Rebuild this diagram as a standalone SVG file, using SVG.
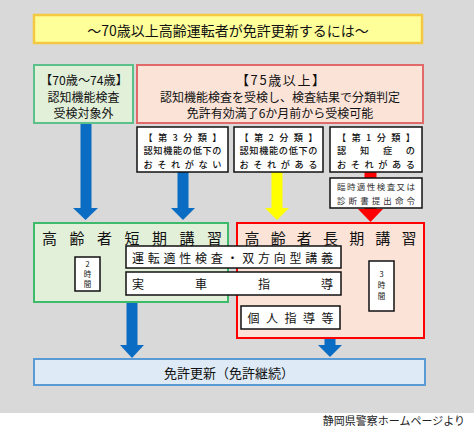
<svg xmlns="http://www.w3.org/2000/svg" width="474" height="429" viewBox="0 0 474 429">
<style>
text{font-family:"Noto Sans CJK JP","Noto Sans",sans-serif;fill:#111;text-anchor:middle;dominant-baseline:central}
.wb{fill:#fff;stroke:#111;stroke-width:1.5}
.t12{font-size:12px}
.t11{font-size:9.2px;font-weight:500}
.t9{font-size:8.5px;fill:#333}
.t15{font-size:15px}
.t8{font-size:7.5px}
</style>
<rect x="0" y="0" width="474" height="413" fill="#d9d9d9"/>
<rect x="0" y="413" width="474" height="16" fill="#fff"/>
<g id="title">
<rect x="34" y="15" width="388" height="28" fill="#ffff99" stroke="#f5c842" stroke-width="2.5"/>
<text x="228" y="29.5" style="font-size:14px">～70歳以上高齢運転者が免許更新するには～</text>
</g>
<g id="connectors">
<g fill="#0b6cc4">
<rect x="80.5" y="123" width="11" height="86"/><polygon points="73,208 98,208 85.5,220"/>
<rect x="177.5" y="172" width="11" height="37"/><polygon points="171,208 195,208 183,220"/>
<rect x="126.5" y="302" width="11" height="44"/><polygon points="120,345 144,345 132,358"/>
<rect x="324.5" y="338" width="11" height="8"/><polygon points="318,345 342,345 330,357"/>
</g>
<rect x="271.5" y="172" width="11" height="37" fill="#ffff00"/><polygon points="265,208 289,208 277,220" fill="#ffff00"/>
<rect x="364.5" y="172" width="12" height="6" fill="#ff0000"/>
<rect x="364.5" y="208" width="12" height="2" fill="#ff0000"/>
<polygon points="358,209 383,209 370.5,222" fill="#ff0000"/>
</g>
<g id="age70">
<rect x="34" y="65" width="99" height="58" fill="#e2efd9" stroke="#5cc08a" stroke-width="2"/>
<text x="84" y="79" class="t12" textLength="88" lengthAdjust="spacingAndGlyphs">【70歳～74歳】</text>
<text x="83.5" y="96" class="t12">認知機能検査</text>
<text x="83.5" y="112" class="t12">受検対象外</text>
</g>
<g id="age75">
<rect x="137" y="65" width="286" height="58" fill="#fbe3d8" stroke="#e06a6a" stroke-width="2"/>
<text x="280.5" y="79" style="font-size:13px" textLength="89" lengthAdjust="spacing">【75歳以上】</text>
<text x="280" y="96" class="t12">認知機能検査を受検し、検査結果で分類判定</text>
<text x="280" y="112" class="t12">免許有効満了6か月前から受検可能</text>
</g>
<g id="cat3">
<rect x="137" y="127" width="91" height="45" class="wb"/>
<text x="182.5" y="136.5" class="t11" textLength="78" lengthAdjust="spacing">【第3分類】</text>
<text x="182.5" y="150" class="t11" textLength="78" lengthAdjust="spacing">認知機能の低下の</text>
<text x="182.5" y="163.5" class="t11" textLength="78" lengthAdjust="spacing">おそれがない</text>
</g>
<g id="cat2">
<rect x="234" y="127" width="89" height="45" class="wb"/>
<text x="278.5" y="136.5" class="t11" textLength="78" lengthAdjust="spacing">【第2分類】</text>
<text x="278.5" y="150" class="t11" textLength="78" lengthAdjust="spacing">認知機能の低下の</text>
<text x="278.5" y="163.5" class="t11" textLength="78" lengthAdjust="spacing">おそれがある</text>
</g>
<g id="cat1">
<rect x="330" y="127" width="92" height="45" class="wb"/>
<text x="376" y="136.5" class="t11" textLength="78" lengthAdjust="spacing">【第1分類】</text>
<text x="376" y="150" class="t11" textLength="78" lengthAdjust="spacing">認知症の</text>
<text x="376" y="163.5" class="t11" textLength="78" lengthAdjust="spacing">おそれがある</text>
</g>
<g id="order">
<rect x="330" y="178" width="92" height="30" class="wb"/>
<text x="376" y="186" class="t9" textLength="78" lengthAdjust="spacing">臨時適性検査又は</text>
<text x="376" y="199.5" class="t9" textLength="78" lengthAdjust="spacing">診断書提出命令</text>
</g>
<g id="long">
<rect x="237" y="223" width="187" height="115" fill="#fbe3d8" stroke="#ff0000" stroke-width="2"/>
<text x="330.5" y="237" class="t15" textLength="172" lengthAdjust="spacing">高齢者長期講習</text>
<rect x="369" y="261" width="25" height="50" class="wb"/>
<text x="381.5" y="273" class="t8">3</text>
<text x="381.5" y="284" class="t8">時</text>
<text x="381.5" y="295" class="t8">間</text>
<rect x="241" y="306" width="99" height="23" class="wb"/>
<text x="290.5" y="317.5" class="t12" textLength="86" lengthAdjust="spacing">個人指導等</text>
</g>
<g id="short">
<rect x="34" y="223" width="194" height="79" fill="#e2efd9" stroke="#3dba6a" stroke-width="2"/>
<text x="132" y="237" class="t15" textLength="180" lengthAdjust="spacing">高齢者短期講習</text>
<rect x="75" y="257" width="25" height="34" class="wb"/>
<text x="87.5" y="263" class="t8">2</text>
<text x="87.5" y="273" class="t8">時</text>
<text x="87.5" y="283" class="t8">間</text>
</g>
<g id="common">
<rect x="126" y="246" width="215" height="22" class="wb"/>
<text x="232.5" y="257" class="t12" textLength="201" lengthAdjust="spacing">運転適性検査・双方向型講義</text>
<rect x="126" y="272" width="215" height="23" class="wb"/>
<text x="232.5" y="283.5" class="t12" textLength="201" lengthAdjust="spacing">実車指導</text>
</g>
<g id="renewal">
<rect x="34" y="359" width="391" height="26" fill="#deebf7" stroke="#5b9bd5" stroke-width="2"/>
<text x="229" y="372" style="font-size:13px">免許更新（免許継続）</text>
</g>
<text x="465" y="420" style="font-size:11px;text-anchor:end;fill:#222">静岡県警察ホームページより</text>
</svg>
